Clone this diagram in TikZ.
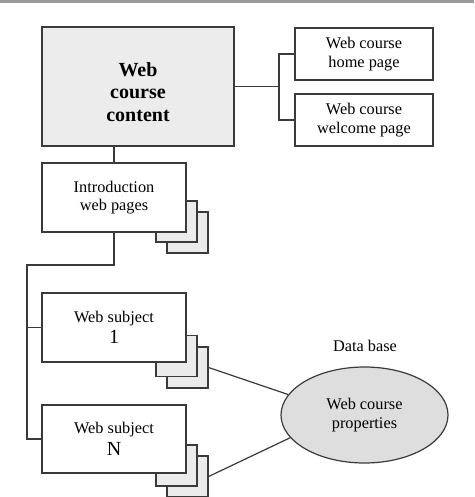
\documentclass[tikz,border=0pt]{standalone}
\usepackage{fontspec}
\setmainfont{Liberation Serif}
\usetikzlibrary{shapes.geometric}
\definecolor{linec}{HTML}{3A3A3A}
\definecolor{mainfill}{HTML}{ECECEC}
\definecolor{shadfill}{HTML}{EBEBEB}
\definecolor{dbfill}{HTML}{DEDEDE}
\definecolor{bandc}{HTML}{9A9A9A}
\begin{document}
\begin{tikzpicture}[x=1pt,y=-1pt,
  conn/.style={draw=linec,line width=1.2pt},
  txt/.style={font=\fontsize{16.3}{18.5}\selectfont,align=center,text=black},
  box/.style={draw=linec,line width=1.2pt,fill=white,rectangle,inner sep=0pt,txt},
  shad/.style={draw=linec,line width=1.2pt,fill=shadfill,rectangle,inner sep=0pt,minimum width=41pt,minimum height=41pt},
  ]
\useasboundingbox (0,0) rectangle (474,497);
\fill[bandc] (0,0) rectangle (474,3.5);

% main box
\node[box,fill=mainfill,minimum width=192pt,minimum height=119pt] (main) at (138,86.5) {};
\node[txt,font=\fontsize{20}{22.5}\selectfont\bfseries] (maintext) at (138,92) {Web\\course\\content};

\node[box,minimum width=138pt,minimum height=52pt] (home) at (364,54) {Web course\\home page};
\node[box,minimum width=138pt,minimum height=52pt] (welcome) at (364,120) {Web course\\welcome page};

% intro
\node[shad] (i2) at (187.5,232.5) {};
\node[shad] (i1) at (176.5,221.5) {};
\node[box,minimum width=144pt,minimum height=69pt] (intro) at (114,197.5) {Introduction\\web pages};

% subject 1
\node[shad] (s1b) at (187.5,367.5) {};
\node[shad] (s1a) at (176.5,356) {};
\node[box,minimum width=144pt,minimum height=69pt] (sub1) at (114,327.5) {Web subject\\[3pt]{\fontsize{20}{22}\selectfont 1}};

% subject N
\node[shad] (s2b) at (187.5,476.5) {};
\node[shad] (s2a) at (176.5,465.5) {};
\node[box,minimum width=144pt,minimum height=68pt] (subN) at (114,439) {Web subject\\[3pt]{\fontsize{20}{22}\selectfont N}};

% database
\node[ellipse,draw=linec,line width=1.2pt,fill=dbfill,minimum width=167pt,minimum height=96pt,inner sep=0pt,txt] (db) at (364.5,415) {Web course\\properties};
\node[txt] (dblabel) at (365,346) {Data base};

% connectors
\coordinate (jt) at (279,54);
\coordinate (jb) at (279,120);
\coordinate (sp) at (27,265);
\draw[conn] (home.west) -- (jt) -- (jb) -- (welcome.west);
\draw[conn] (main.east) -- (main.east -| jt);
\draw[conn] (intro.north) -- (intro.north |- main.south);
\draw[conn] (intro.south) |- (sp) |- (subN.west);
\draw[conn] (sp |- sub1.west) -- (sub1.west);
\draw[conn] (s1b.east) -- (db.165);
\draw[conn] (s2b.east) -- (db.197);
\end{tikzpicture}
\end{document}
